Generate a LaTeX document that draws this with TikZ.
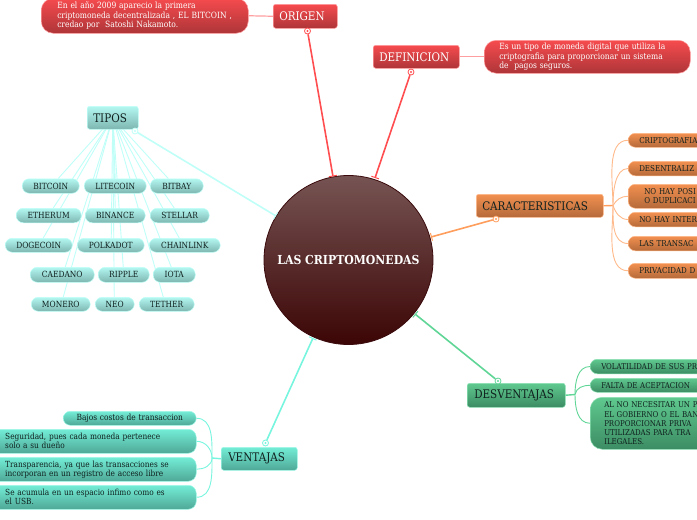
\documentclass[tikz,border=0pt]{standalone}
\usepackage{fontspec}
\setmainfont{DejaVu Serif}[FakeStretch=0.88]
\usetikzlibrary{arrows.meta,backgrounds,calc}
\definecolor{redT}{HTML}{F64B4E}\definecolor{redB}{HTML}{AE3538}\definecolor{redL}{HTML}{FF4D50}\definecolor{redP}{HTML}{FF9EA0}
\definecolor{cyT}{HTML}{B3F7F1}\definecolor{cyB}{HTML}{7EB6B1}\definecolor{cyL}{HTML}{BFFFF8}
\definecolor{orT}{HTML}{F29050}\definecolor{orB}{HTML}{B56A3A}\definecolor{orL}{HTML}{FF9D5C}\definecolor{orP}{HTML}{FFB98A}
\definecolor{grT}{HTML}{5FC98F}\definecolor{grB}{HTML}{3C8C63}\definecolor{grL}{HTML}{5FD596}
\definecolor{tqT}{HTML}{73EDD6}\definecolor{tqB}{HTML}{4FA897}\definecolor{tqL}{HTML}{78F5DE}
\definecolor{coreT}{HTML}{765453}\definecolor{coreB}{HTML}{3C0505}\definecolor{coreE}{HTML}{3A0A0C}
\definecolor{ink}{HTML}{10201E}
\tikzset{
  rbox/.style={draw=redP,line width=.5pt,top color=redT,bottom color=redB,text=white},
  cbox/.style={draw=cyL,line width=.5pt,top color=cyT,bottom color=cyB,text=ink},
  obox/.style={draw=orP,line width=.5pt,top color=orT,bottom color=orB,text=ink},
  gbox/.style={draw=grL!70,line width=.5pt,top color=grT,bottom color=grB,text=ink},
  tbox/.style={draw=tqL!70,line width=.5pt,top color=tqT,bottom color=tqB,text=ink},
  mainb/.style={rounded corners=2.5pt,font=\fontsize{11.8}{13}\selectfont},
  pill/.style={rounded corners=7pt,font=\fontsize{8.5}{9}\selectfont},
  bigp/.style={rounded corners=12pt,font=\fontsize{8.6}{9.4}\selectfont},
  knob/.style={circle,draw=#1,fill=white,line width=.8pt,minimum size=6pt,inner sep=0pt,
    path picture={\fill[#1] (path picture bounding box.center) circle (1.2pt);}},
  tie/.style={line width=1.6pt,color=#1,-{Bar[width=8pt,length=1pt,line width=1pt]}},
  twig/.style={line width=.9pt,color=#1},
}
\newcommand{\bx}[8]{%
  \pgfmathsetmacro{\bw}{#5-#3}\pgfmathsetmacro{\bh}{#6-#4}\pgfmathsetmacro{\btw}{#5-#3-2*#7}%
  \node[#2,anchor=north west,inner xsep=#7pt,inner ysep=0pt,minimum height=\bh pt,text width=\btw pt] (#1) at (#3,#4) {#8};}
\begin{document}
\begin{tikzpicture}[x=1pt,y=-1pt]
\useasboundingbox (0,0) rectangle (697,520);
\clip (0,0) rectangle (697,520);
% centre
\node[circle,draw=coreE,line width=.8pt,minimum size=169pt,inner sep=0pt,
  top color=coreT,bottom color=coreB,
  text=white,font=\bfseries\fontsize{12.4}{14}\selectfont] (core) at (348.5,260) {LAS CRIPTOMONEDAS};
% red
\bx{origen}{rbox,mainb}{273}{4}{337}{28}{6}{ORIGEN}
\bx{origleaf}{rbox,bigp}{41}{-2}{248}{33}{16}{En el año 2009 aparecio la primera\\criptomoneda decentralizada , EL BITCOIN ,\\credao por \ Satoshi Nakamoto.}
\bx{defin}{rbox,mainb}{373}{45}{459}{68}{6}{DEFINICION}
\bx{defleaf}{rbox,bigp}{484}{40}{690}{73}{15}{Es un tipo de moneda digital que utiliza la\\criptografia para proporcionar un sistema\\de \ pagos seguros.}
\node[knob=redL] (k1) at (307.5,31) {};
\node[knob=redL] (k2) at (411,72) {};
\coordinate (e1) at (333,176.5);
\coordinate (e2) at (375,178);
\draw[tie=redL] (k1) -- (e1);
\draw[tie=redL] (k2) -- (e2);
\draw[twig=redP,line width=1.2pt] (origen.west) -- (origleaf.east);
\draw[twig=redP,line width=1.2pt] (defin.east) -- (defleaf.west);
% tipos
\bx{tipos}{cbox,mainb}{87}{106}{138}{129}{6}{TIPOS}
\tikzset{cpill/.style={cbox,pill,align=center}}
\bx{bitcoin}{cpill}{22}{178.5}{79}{193}{0}{BITCOIN}
\bx{litecoin}{cpill}{84}{178.5}{146}{193}{0}{LITECOIN}
\bx{bitbay}{cpill}{150}{178.5}{203}{193}{0}{BITBAY}
\bx{etherum}{cpill}{16}{208}{81}{222.5}{0}{ETHERUM}
\bx{binance}{cpill}{85}{208}{145}{222.5}{0}{BINANCE}
\bx{stellar}{cpill}{150}{208}{209}{222.5}{0}{STELLAR}
\bx{dogecoin}{cpill}{5}{238}{72}{252}{0}{DOGECOIN}
\bx{polkadot}{cpill}{77}{238}{144}{252}{0}{POLKADOT}
\bx{chainlink}{cpill}{149}{238}{220}{252}{0}{CHAINLINK}
\bx{caedano}{cpill}{30}{267}{94}{282}{0}{CAEDANO}
\bx{ripple}{cpill}{98}{267}{149}{282}{0}{RIPPLE}
\bx{iota}{cpill}{153}{267}{195}{282}{0}{IOTA}
\bx{monero}{cpill}{31}{297}{90}{311}{0}{MONERO}
\bx{neo}{cpill}{95}{297}{134}{311}{0}{NEO}
\bx{tether}{cpill}{139}{297}{194}{311}{0}{TETHER}
\begin{scope}[on background layer]
\foreach \n/\d in {bitcoin/7.5,litecoin/0,bitbay/-8.5,etherum/4.5,binance/0,stellar/-5.5,dogecoin/4.5,polkadot/0.5,chainlink/-5.5,caedano/3,ripple/-0.5,iota/-3,monero/2.5,neo/-0.5,tether/-3.5}
  \draw[twig=cyL] (tipos.center) -- ($(\n.north)+(\d,0)$);
\end{scope}
\node[knob=cyL] (k3) at (135,131) {};
\coordinate (e3) at (276,216);
\draw[tie=cyL] (k3) -- (e3);
% caracteristicas
\bx{carac}{obox,mainb}{476}{194}{603}{217}{6}{CARACTERISTICAS}
\tikzset{opill/.style={obox,pill,font=\fontsize{8.1}{9}\selectfont}}
\bx{c1}{opill}{628}{133}{720}{147}{11}{CRIPTOGRAFIA}
\bx{c2}{opill}{628}{161}{720}{175.5}{11}{DESENTRALIZ}
\bx{c3}{opill}{628}{184}{720}{208}{16}{NO HAY POSI\\O DUPLICACI}
\bx{c4}{opill}{628}{212}{720}{226.5}{11}{NO HAY INTER}
\bx{c5}{opill}{628}{236}{720}{250.5}{11}{LAS TRANSAC}
\bx{c6}{opill}{628}{263}{720}{278}{11}{PRIVACIDAD D}
\node[knob=orL] (k4) at (496,219) {};
\coordinate (e4) at (431,237);
\draw[tie=orL] (k4) -- (e4);
\coordinate (jc) at (613,205.5);
\draw[twig=orL,line width=1.4pt] (carac.east) -- (jc);
\draw[twig=orP] (jc) to[out=90,in=180,looseness=.85] (c1.west);
\draw[twig=orP] (jc) to[out=90,in=180,looseness=.85] (c2.west);
\draw[twig=orP] (jc) to[out=60,in=180] (c3.west);
\draw[twig=orP] (jc) to[out=-70,in=180] (c4.west);
\draw[twig=orP] (jc) to[out=-90,in=180] (c5.west);
\draw[twig=orP] (jc) to[out=-90,in=180,looseness=.85] (c6.west);
% desventajas
\bx{desv}{gbox,mainb}{467}{383}{565}{407}{7}{DESVENTAJAS}
\tikzset{gpill/.style={gbox,pill,font=\fontsize{8}{9}\selectfont}}
\bx{g1}{gpill}{590}{359}{720}{373.5}{11}{VOLATILIDAD DE SUS PR}
\bx{g2}{gpill}{590}{378}{720}{392}{11}{FALTA DE ACEPTACION}
\bx{g3}{gbox,bigp,font=\fontsize{8}{9.1}\selectfont}{590}{397}{720}{449}{14}{AL NO NECESITAR UN P\\EL GOBIERNO O EL BAN\\PROPORCIONAR PRIVA\\UTILIZADAS PARA TRA\\ILEGALES.}
\node[knob=grL] (k5) at (498,381) {};
\coordinate (e5) at (415,314);
\draw[tie=grL] (k5) -- (e5);
\coordinate (jg) at (575,394.5);
\draw[twig=grL,line width=1.4pt] (desv.east) -- (jg);
\draw[twig=grL] (jg) to[out=90,in=180] (g1.west);
\draw[twig=grL] (jg) to[out=80,in=180] (g2.west);
\draw[twig=grL] (jg) to[out=-90,in=180] (g3.west);
% ventajas
\bx{vent}{tbox,mainb}{221}{447}{297}{470}{7}{VENTAJAS}
\tikzset{tpill/.style={tbox,bigp,rounded corners=8pt,font=\fontsize{8.4}{9}\selectfont}}
\bx{v1}{tbox,pill,align=center}{63}{411}{196}{425}{0}{Bajos costos de transaccion}
\bx{v2}{tpill}{-12}{429}{196}{453}{17}{Seguridad, pues cada moneda pertenece\\solo a su dueño}
\bx{v3}{tpill}{-12}{457}{196}{481}{17}{Transparencia, ya que las transacciones se\\incorporan en un registro de acceso libre}
\bx{v4}{tpill}{-12}{485}{196}{509}{17}{Se acumula en un espacio infimo como es\\el USB.}
\node[knob=tqL] (k6) at (265.5,443) {};
\coordinate (e6) at (313,338);
\draw[tie=tqL] (k6) -- (e6);
\coordinate (jv) at (212,458);
\draw[twig=tqL,line width=1.4pt] (vent.west) -- (jv);
\draw[twig=tqL] (jv) to[out=90,in=0] (v1.east);
\draw[twig=tqL] (jv) to[out=90,in=0] (v2.east);
\draw[twig=tqL] (jv) to[out=-90,in=0] (v3.east);
\draw[twig=tqL] (jv) to[out=-90,in=0] (v4.east);
\end{tikzpicture}
\end{document}
